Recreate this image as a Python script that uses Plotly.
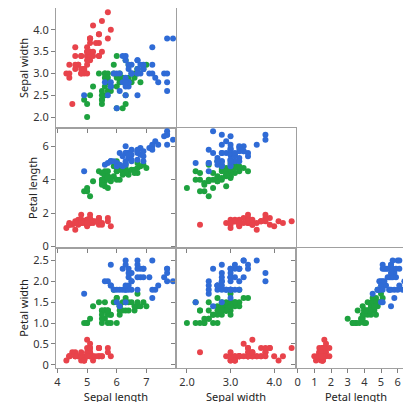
import plotly.graph_objects as go
from plotly.subplots import make_subplots

# Fisher iris data
sepal_length = [5.1,4.9,4.7,4.6,5.0,5.4,4.6,5.0,4.4,4.9,5.4,4.8,4.8,4.3,5.8,5.7,5.4,5.1,5.7,5.1,5.4,5.1,4.6,5.1,4.8,5.0,5.0,5.2,5.2,4.7,4.8,5.4,5.2,5.5,4.9,5.0,5.5,4.9,4.4,5.1,5.0,4.5,4.4,5.0,5.1,4.8,5.1,4.6,5.3,5.0,
    7.0,6.4,6.9,5.5,6.5,5.7,6.3,4.9,6.6,5.2,5.0,5.9,6.0,6.1,5.6,6.7,5.6,5.8,6.2,5.6,5.9,6.1,6.3,6.1,6.4,6.6,6.8,6.7,6.0,5.7,5.5,5.5,5.8,6.0,5.4,6.0,6.7,6.3,5.6,5.5,5.5,6.1,5.8,5.0,5.6,5.7,5.7,6.2,5.1,5.7,
    6.3,5.8,7.1,6.3,6.5,7.6,4.9,7.3,6.7,7.2,6.5,6.4,6.8,5.7,5.8,6.4,6.5,7.7,7.7,6.0,6.9,5.6,7.7,6.3,6.7,7.2,6.2,6.1,6.4,7.2,7.4,7.9,6.4,6.3,6.1,7.7,6.3,6.4,6.0,6.9,6.7,6.9,5.8,6.8,6.7,6.7,6.3,6.5,6.2,5.9]
sepal_width = [3.5,3.0,3.2,3.1,3.6,3.9,3.4,3.4,2.9,3.1,3.7,3.4,3.0,3.0,4.0,4.4,3.9,3.5,3.8,3.8,3.4,3.7,3.6,3.3,3.4,3.0,3.4,3.5,3.4,3.2,3.1,3.4,4.1,4.2,3.1,3.2,3.5,3.1,3.0,3.4,3.5,2.3,3.2,3.5,3.8,3.0,3.8,3.2,3.7,3.3,
    3.2,3.2,3.1,2.3,2.8,2.8,3.3,2.4,2.9,2.7,2.0,3.0,2.2,2.9,2.9,3.1,3.0,2.7,2.2,2.5,3.2,2.8,2.5,2.8,2.9,3.0,2.8,3.0,2.9,2.6,2.4,2.4,2.7,2.7,3.0,3.4,3.1,2.3,3.0,2.5,2.6,3.0,2.6,2.3,2.7,3.0,2.9,2.9,2.5,2.8,
    3.3,2.7,3.0,2.9,3.0,3.0,2.5,2.9,2.5,3.6,3.2,2.7,3.0,2.5,2.8,3.2,3.0,3.8,2.6,2.2,3.2,2.8,2.8,2.7,3.3,3.2,2.8,3.0,2.8,3.0,2.8,3.8,2.8,2.8,2.6,3.0,3.4,3.1,3.0,3.1,3.1,3.1,2.7,3.2,3.3,3.0,2.5,3.0,3.4,3.0]
petal_length = [1.4,1.4,1.3,1.5,1.4,1.7,1.4,1.5,1.4,1.5,1.5,1.6,1.4,1.1,1.2,1.5,1.3,1.4,1.7,1.5,1.7,1.5,1.0,1.7,1.9,1.6,1.6,1.5,1.4,1.6,1.6,1.5,1.5,1.4,1.5,1.2,1.3,1.5,1.3,1.5,1.3,1.3,1.3,1.6,1.9,1.4,1.6,1.4,1.5,1.4,
    4.7,4.5,4.9,4.0,4.6,4.5,4.7,3.3,4.6,3.9,3.5,4.2,4.0,4.7,3.6,4.4,4.5,4.1,4.5,3.9,4.8,4.0,4.9,4.7,4.3,4.4,4.8,5.0,4.5,3.5,3.8,3.7,3.9,5.1,4.5,4.5,4.7,4.4,4.1,4.0,4.4,4.6,4.0,3.3,4.2,4.2,4.2,4.3,3.0,4.1,
    6.0,5.1,5.9,5.6,5.8,6.6,4.5,6.3,5.8,6.1,5.1,5.3,5.5,5.0,5.1,5.3,5.5,6.7,6.9,5.0,5.7,4.9,6.7,4.9,5.7,6.0,4.8,4.9,5.6,5.8,6.1,6.4,5.6,5.1,5.6,6.1,5.6,5.5,4.8,5.4,5.6,5.1,5.1,5.9,5.7,5.2,5.0,5.2,5.4,5.1]
petal_width = [0.2,0.2,0.2,0.2,0.2,0.4,0.3,0.2,0.2,0.1,0.2,0.2,0.1,0.1,0.2,0.4,0.4,0.3,0.3,0.3,0.2,0.4,0.2,0.5,0.2,0.2,0.4,0.2,0.2,0.2,0.2,0.4,0.1,0.2,0.1,0.2,0.2,0.1,0.2,0.2,0.3,0.3,0.2,0.6,0.4,0.3,0.2,0.2,0.2,0.2,
    1.4,1.5,1.5,1.3,1.5,1.3,1.6,1.0,1.3,1.4,1.0,1.5,1.0,1.4,1.3,1.4,1.5,1.0,1.5,1.1,1.8,1.3,1.5,1.2,1.3,1.4,1.4,1.7,1.5,1.0,1.1,1.0,1.2,1.6,1.5,1.6,1.5,1.3,1.3,1.3,1.2,1.4,1.2,1.0,1.3,1.2,1.3,1.3,1.1,1.3,
    2.5,1.9,2.1,1.8,2.2,2.1,1.7,1.8,1.8,2.5,2.0,1.9,2.1,2.0,2.4,2.3,1.8,2.2,2.3,1.5,2.3,2.0,2.0,1.8,2.1,1.8,1.8,1.8,2.1,1.6,1.9,2.0,2.2,1.5,1.4,2.3,2.4,1.8,1.8,2.1,2.4,2.3,1.9,2.3,2.5,2.3,1.9,2.0,2.3,1.8]
species = ["setosa"] * 50 + ["versicolor"] * 50 + ["virginica"] * 50
colors = {"setosa": "#e8434b", "versicolor": "#1ea23f", "virginica": "#2f6bd6"}

columns = {"Sepal length": sepal_length, "Sepal width": sepal_width,
           "Petal length": petal_length, "Petal width": petal_width}
names = list(columns)
ranges = {"Sepal length": [3.95, 8.0], "Sepal width": [1.75, 4.5],
          "Petal length": [-0.1, 7.1], "Petal width": [-0.08, 2.8]}
ticks = {"Sepal length": ([4, 5, 6, 7], ["4", "5", "6", "7"]),
         "Sepal width": ([2.0, 2.5, 3.0, 3.5, 4.0], ["2.0", "2.5", "3.0", "3.5", "4.0"]),
         "Petal length": ([0, 2, 4, 6], ["0", "2", "4", "6"]),
         "Petal width": ([0, 0.5, 1.0, 1.5, 2.0, 2.5], ["0", "0.5", "1.0", "1.5", "2.0", "2.5"])}
xticks = {"Sepal length": ([4, 5, 6, 7], ["4", "5", "6", "7"]),
          "Sepal width": ([2.0, 3.0, 4.0], ["2.0", "3.0", "4.0"]),
          "Petal length": ([0, 1, 2, 3, 4, 5, 6], ["0", "1", "2", "3", "4", "5", "6"])}

fig = make_subplots(rows=3, cols=3, horizontal_spacing=0, vertical_spacing=0)
axstyle = dict(showline=True, mirror=True, linecolor="#a0a0a0", linewidth=1,
               showgrid=False, zeroline=False, ticks="outside", ticklen=4,
               tickcolor="#808080", tickfont=dict(size=11, color="#333"),
               automargin=False)
for r in range(3):
    ycol = names[r + 1]
    for c in range(r + 1):
        xcol = names[c]
        for sp in ["setosa", "versicolor", "virginica"]:
            idx = [i for i, s in enumerate(species) if s == sp]
            fig.add_trace(go.Scatter(
                x=[columns[xcol][i] for i in idx], y=[columns[ycol][i] for i in idx],
                mode="markers", marker=dict(size=6, color=colors[sp]),
                showlegend=False), row=r + 1, col=c + 1)
        tv, tt = xticks[xcol]
        fig.update_xaxes(axstyle, range=ranges[xcol], row=r + 1, col=c + 1,
                         tickvals=tv, ticktext=tt, showticklabels=(r == 2),
                         title=dict(text=xcol if r == 2 else "", font=dict(size=11, color="#222"), standoff=0))
        tv, tt = ticks[ycol]
        fig.update_yaxes(axstyle, range=ranges[ycol], row=r + 1, col=c + 1,
                         tickvals=tv, ticktext=tt, showticklabels=(c == 0),
                         title=dict(text=ycol if c == 0 else "", font=dict(size=11, color="#222"), standoff=2))
for r in range(3):
    for c in range(r + 1, 3):
        fig.update_xaxes(visible=False, row=r + 1, col=c + 1)
        fig.update_yaxes(visible=False, row=r + 1, col=c + 1)

fig.update_layout(width=411, height=402, margin=dict(l=48, r=3, t=0, b=42),
                  plot_bgcolor="white", paper_bgcolor="white",
                  font=dict(family="Noto Sans", size=11))
fig.write_html("out.html")
